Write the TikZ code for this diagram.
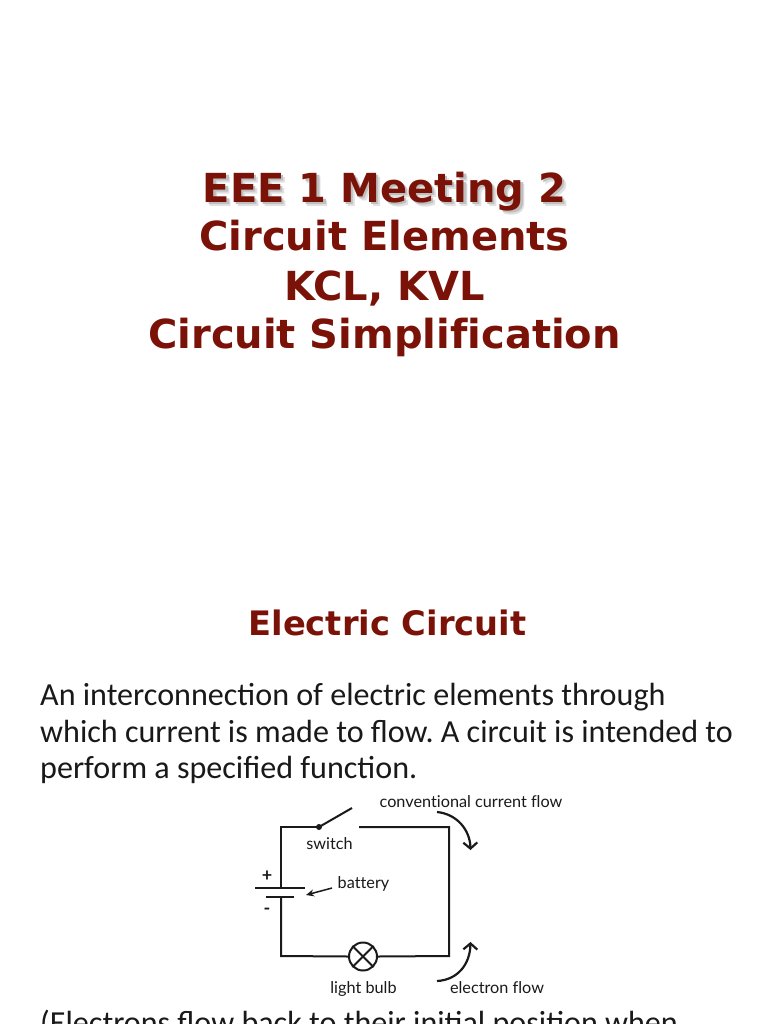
\documentclass[tikz,border=0pt]{standalone}
\usepackage{fontspec}
\setmainfont{Carlito}
\newfontfamily\titlefont{DejaVu Sans}[BoldFont={DejaVu Sans Bold},Ligatures=NoCommon]
\newfontfamily\labelfont{Lato}[Ligatures=NoCommon]
\definecolor{maroon}{HTML}{7B1208}
\definecolor{inkc}{HTML}{1A1A1A}
\usetikzlibrary{arrows.meta}
\tikzset{
  titletext/.style={font=\titlefont\bfseries\fontsize{40}{40}\selectfont,text=maroon,inner sep=0pt,anchor=base},
  shadowtext/.style={font=\titlefont\bfseries\fontsize{40}{40}\selectfont,text=black!12,inner sep=0pt,anchor=base},
  shadowcore/.style={shadowtext,text=black!25},
  headtext/.style={font=\titlefont\bfseries\fontsize{33.7}{33.7}\selectfont,text=maroon,inner sep=0pt,anchor=base},
  bodytext/.style={font=\fontsize{32.1}{32.1}\selectfont\frenchspacing,text=black!90,inner sep=0pt,anchor=base west},
  lbl/.style={font=\labelfont\fontsize{16.25}{16.25}\selectfont,text=inkc,inner sep=0pt,anchor=base},
  wire/.style={draw=inkc,line width=2pt},
  thinarrow/.style={draw=inkc,line width=2.2pt,-{Straight Barb[length=6pt,width=14pt]}}
}
\begin{document}
\begin{tikzpicture}[x=1pt,y=-1pt]
\useasboundingbox (0,0) rectangle (768,1024);
\clip (0,0) rectangle (768,1024);
\fill[white] (0,0) rectangle (768,1024);
\node[shadowtext] (t1o) at (388.5,206.5) {EEE 1 Meeting 2};
\node[shadowcore] (t1s) at (387,205) {EEE 1 Meeting 2};
\node[titletext] (t1) at (384.5,202.5) {EEE 1 Meeting 2};
\node[titletext] (t2) at (384.5,250.5) {Circuit Elements};
\node[titletext] (t3) at (384.5,300) {KCL, KVL};
\node[titletext] (t4) at (384.5,348.5) {Circuit Simplification};
\node[headtext] (h) at (387.5,635) {Electric Circuit};
\node[bodytext] (b1) at (40,705) {An interconnection of electric elements through};
\node[bodytext] (b2) at (40,742) {which current is made to flow. A circuit is intended to};
\node[bodytext] (b3) at (40,778) {perform a specified function.};
\node[bodytext] (b4) at (40,1033) {(Electrons flow back to their initial position when};
% circuit
\coordinate (piv) at (319,827);
\coordinate (swt) at (352,808);
\coordinate (tr0) at (359,827);
\coordinate (tr) at (449,827);
\coordinate (br) at (449,956);
\coordinate (bl) at (281,956);
\coordinate (tl) at (281,827);
\coordinate (bp) at (281,888);
\coordinate (bn) at (281,897);
\node[circle,draw=inkc,line width=2pt,minimum size=28pt,inner sep=0pt,fill=white] (bulb) at (363,956.5) {};
\draw[wire,line cap=rect] (bp) -- (tl) -- (piv);
\draw[wire] (piv) -- (swt);
\fill[inkc] (piv) circle (3pt);
\draw[wire,line join=miter] (tr0) -- (tr) -- (br) -- (bulb.east);
\draw[wire,line join=miter] (bulb.west) -- (bl) -- (bn);
\draw[wire] (bulb.north west) -- (bulb.south east);
\draw[wire] (bulb.north east) -- (bulb.south west);
\draw[draw=inkc,line width=1.5pt] (255,888) -- (305,888);
\draw[draw=inkc,line width=2.6pt] (266,897) -- (294,897);
\node[lbl,font=\labelfont\bfseries\fontsize{18}{18}\selectfont] (plus) at (267,881) {+};
\node[lbl,font=\labelfont\bfseries\fontsize{18}{18}\selectfont] (minus) at (267,914) {-};
\node[lbl] (sw) at (329.5,849) {switch};
\node[lbl] (bat) at (363.5,888) {battery};
\node[lbl] (cc) at (471,807) {conventional current flow};
\node[lbl] (lb) at (363.5,993) {light bulb};
\node[lbl] (ef) at (497,993) {electron flow};
\coordinate (c1) at (437,812);
\coordinate (c2) at (470.5,850);
\coordinate (e1) at (437,981);
\coordinate (e2) at (470.5,942);
\coordinate (ba1) at (332,888);
\coordinate (ba2) at (306,895);
\draw[thinarrow] (c1) .. controls (457,814) and (470,830) .. (c2);
\draw[thinarrow] (e1) .. controls (457,980) and (470,965) .. (e2);
\draw[draw=inkc,line width=1.5pt,-{Stealth[length=8pt,width=7pt]}] (ba1) -- (ba2);
\end{tikzpicture}
\end{document}
